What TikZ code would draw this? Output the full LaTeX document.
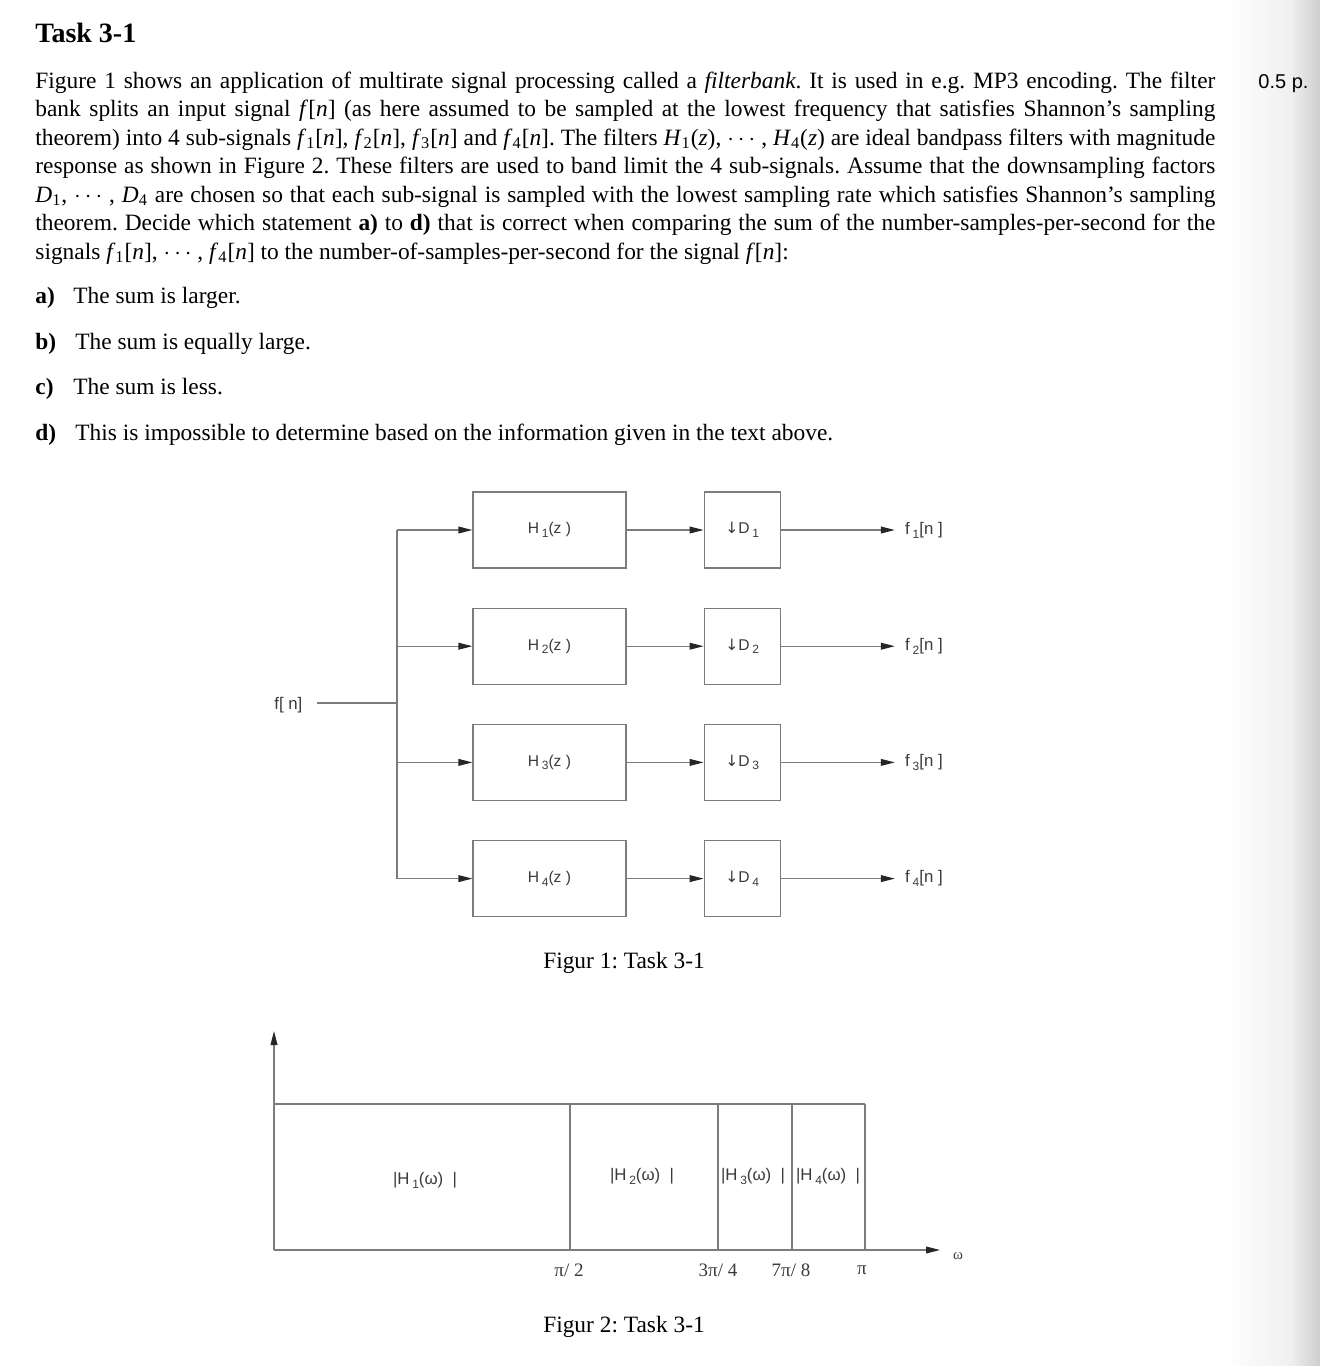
\documentclass[tikz,border=0pt]{standalone}
\usepackage{fontspec}
\setmainfont{Liberation Serif}
\setsansfont{Liberation Sans}
\newfontfamily\arrowfont{DejaVu Sans}
\usetikzlibrary{arrows.meta, positioning, calc}
\definecolor{wireline}{HTML}{7C7C7C}
\definecolor{labeltext}{HTML}{3A3A3A}
\newcommand{\lsub}[1]{\,\raisebox{-0.45ex}{\fontsize{6}{7}\selectfont #1}}
\newcommand{\jline}[1]{\makebox[590pt][s]{#1}}
\newcommand{\sgn}[2]{\textit{#1}\textsubscript{#2}[\textit{n}]}
\frenchspacing

\begin{document}
\begin{tikzpicture}[x=0.5pt, y=-0.5pt, font=\fontsize{11.7}{14}\selectfont,
  txt/.style={anchor=base west, inner sep=0pt},
  blk/.style={draw=wireline, line width=0.6pt, minimum width=76.5pt, minimum height=38pt, inner sep=0pt, text=labeltext, font=\sffamily\fontsize{7.8}{9}\selectfont},
  dsblk/.style={blk, minimum width=38pt},
  siglabel/.style={inner sep=1pt, text=labeltext, font=\sffamily\fontsize{8.4}{10}\selectfont},
  wire/.style={draw=wireline, line width=0.6pt},
  arr/.style={wire, -{Triangle[length=7pt, width=3.4pt, black!85]}},
  ticklabel/.style={inner sep=0pt, text=labeltext, font=\fontsize{9.5}{11}\selectfont}]
  \useasboundingbox (0,0) rectangle (1320,1366);
  % page edge
  \shade[left color=white, right color=black!6] (1225,0) rectangle (1290,1366);
  \shade[left color=black!6, right color=black!19] (1290,0) rectangle (1320,1366);

  % task text
  \node[txt, font=\bfseries\fontsize{14}{16}\selectfont] (title) at (35,42) {Task 3-1};
  \node[txt, font=\sffamily\fontsize{10}{12}\selectfont] (points) at (1258,88) {0.5 p.};
  \node[txt] (l1) at (35,88) {\jline{Figure 1 shows an application of multirate signal processing called a \textit{filterbank}. It is used in e.g. MP3 encoding. The filter}};
  \node[txt] (l2) at (35,116.5) {\jline{bank splits an input signal \textit{f}[\textit{n}] (as here assumed to be sampled at the lowest frequency that satisfies Shannon's sampling}};
  \node[txt] (l3) at (35,145) {\jline{theorem) into 4 sub-signals \sgn{f}{1}, \sgn{f}{2}, \sgn{f}{3} and \sgn{f}{4}. The filters \textit{H}\textsubscript{1}(\textit{z}), $\cdots$ , \textit{H}\textsubscript{4}(\textit{z}) are ideal bandpass filters with magnitude}};
  \node[txt] (l4) at (35,173.5) {\jline{response as shown in Figure 2. These filters are used to band limit the 4 sub-signals. Assume that the downsampling factors}};
  \node[txt] (l5) at (35,202) {\jline{\textit{D}\textsubscript{1}, $\cdots$ , \textit{D}\textsubscript{4} are chosen so that each sub-signal is sampled with the lowest sampling rate which satisfies Shannon's sampling}};
  \node[txt] (l6) at (35,230.5) {\jline{theorem. Decide which statement \textbf{a)} to \textbf{d)} that is correct when comparing the sum of the number-samples-per-second for the}};
  \node[txt] (l7) at (35,259) {signals \sgn{f}{1}, $\cdots$ , \sgn{f}{4} to the number-of-samples-per-second for the signal \textit{f}[\textit{n}]:};

  % answers
  \node[txt, font=\bfseries\fontsize{11.7}{14}\selectfont] (ka) at (35,303) {a)};
  \node[txt] (ta) at (73,303) {The sum is larger.};
  \node[txt, font=\bfseries\fontsize{11.7}{14}\selectfont] (kb) at (35,349) {b)};
  \node[txt] (tb) at (75,349) {The sum is equally large.};
  \node[txt, font=\bfseries\fontsize{11.7}{14}\selectfont] (kc) at (35,394) {c)};
  \node[txt] (tc) at (73,394) {The sum is less.};
  \node[txt, font=\bfseries\fontsize{11.7}{14}\selectfont] (kd) at (35,440) {d)};
  \node[txt] (td) at (75,440) {This is impossible to determine based on the information given in the text above.};

  % figure 1: filterbank
  \node[blk] (h1) at (549.5,530) {H\lsub{1}(z )};
  \node[blk, below=19.5pt of h1] (h2) {H\lsub{2}(z )};
  \node[blk, below=19.5pt of h2] (h3) {H\lsub{3}(z )};
  \node[blk, below=19.5pt of h3] (h4) {H\lsub{4}(z )};
  \node[dsblk, right=38.5pt of h1] (d1) {{\arrowfont ↓}D\lsub{1}};
  \node[dsblk, right=38.5pt of h2] (d2) {{\arrowfont ↓}D\lsub{2}};
  \node[dsblk, right=38.5pt of h3] (d3) {{\arrowfont ↓}D\lsub{3}};
  \node[dsblk, right=38.5pt of h4] (d4) {{\arrowfont ↓}D\lsub{4}};
  \node[siglabel, anchor=west, right=61pt of d1] (o1) {f\lsub{1}[n ]};
  \node[siglabel, anchor=west, right=61pt of d2] (o2) {f\lsub{2}[n ]};
  \node[siglabel, anchor=west, right=61pt of d3] (o3) {f\lsub{3}[n ]};
  \node[siglabel, anchor=west, right=61pt of d4] (o4) {f\lsub{4}[n ]};
  \node[siglabel, anchor=west] (fin) at (272,705) {f[ n]};
  \coordinate (split) at (397,703);

  \draw[wire] (fin.east |- split) ++(6pt,0) -- (split);
  \draw[wire] (split |- h1) -- (split |- h4);
  \draw[arr] (split |- h1) -- (h1);
  \draw[arr] (split |- h2) -- (h2);
  \draw[arr] (split |- h3) -- (h3);
  \draw[arr] (split |- h4) -- (h4);
  \draw[arr] (h1) -- (d1);
  \draw[arr] (h2) -- (d2);
  \draw[arr] (h3) -- (d3);
  \draw[arr] (h4) -- (d4);
  \draw[arr, shorten >=4pt] (d1) -- (o1);
  \draw[arr, shorten >=4pt] (d2) -- (o2);
  \draw[arr, shorten >=4pt] (d3) -- (o3);
  \draw[arr, shorten >=4pt] (d4) -- (o4);

  \node[txt, anchor=base] (cap1) at (624,968) {Figur 1: Task 3-1};

  % figure 2: magnitude responses
  \coordinate (origin) at (274,1250);
  \draw[arr] (origin) -- (274,1031);
  \draw[arr] (origin) -- (940,1250);
  \draw[wire] (274,1104) -- (865,1104);
  \draw[wire] (570,1104) -- (570,1250);
  \draw[wire] (718,1104) -- (718,1250);
  \draw[wire] (792,1104) -- (792,1250);
  \draw[wire] (865,1104) -- (865,1250);
  \node[siglabel] (m1) at (425,1180) {|H\lsub{1}(ω)\ \ |};
  \node[siglabel] (m2) at (642,1176) {|H\lsub{2}(ω)\ \ |};
  \node[siglabel] (m3) at (753,1176) {|H\lsub{3}(ω)\ \ |};
  \node[siglabel] (m4) at (828,1176) {|H\lsub{4}(ω)\ \ |};
  \node[ticklabel] (t1) at (569,1270) {π/ 2};
  \node[ticklabel] (t2) at (718,1270) {3π/ 4};
  \node[ticklabel] (t3) at (791,1270) {7π/ 8};
  \node[ticklabel] (t4) at (862,1270) {π};
  \node[ticklabel, font=\fontsize{7.5}{8}\selectfont] (w) at (958,1256) {ω};

  \node[txt, anchor=base] (cap2) at (624,1332) {Figur 2: Task 3-1};
\end{tikzpicture}
\end{document}
